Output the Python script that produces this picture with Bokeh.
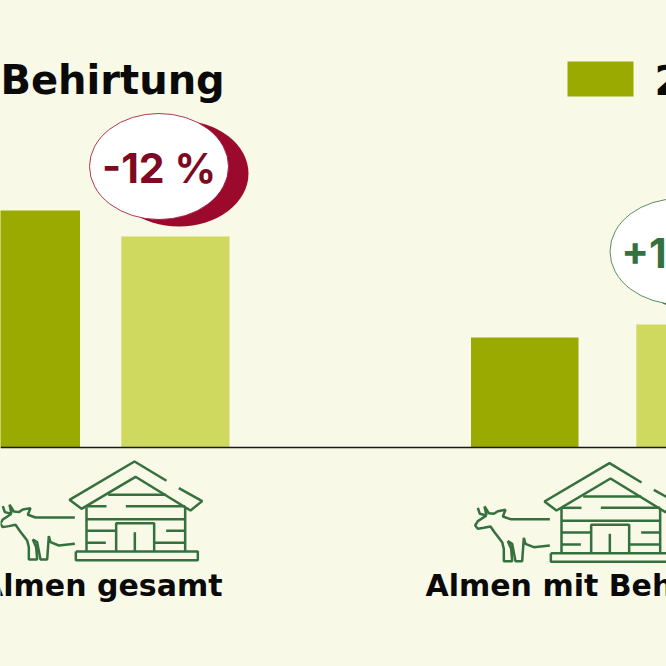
from bokeh.plotting import figure
from bokeh.models import Range1d, Span
from bokeh.core.properties import value
from bokeh.embed import file_html
from bokeh.resources import INLINE

# data
series_2_values = [237, 110]
series_1_values = [211, 123]
categories = ["Almen gesamt", "Almen mit Behirtung"]
changes = ["-12 %", "+12 %"]
title_text = "Behirtung"
legend_label = "2"

BG, DARK, LIGHT = "#f8f9e6", "#9aaa00", "#cfd95f"
GREEN, RED, REDTXT = "#35703f", "#9b0a2c", "#7d0a22"
FONT = "DejaVu Sans"
BASE = 447
def Y(px):
    return BASE - px

p = figure(width=666, height=666, output_backend="svg", toolbar_location=None,
           x_range=Range1d(0, 666), y_range=Range1d(Y(666), Y(0)),
           background_fill_color=BG, border_fill_color=BG, min_border=0,
           outline_line_color=None)
p.axis.visible = False
p.grid.visible = False

# bars
dark_l = [-28, 470.5]; dark_r = [79.5, 578]
light_l = [120.8, 635.8]; light_r = [229, 744]
p.quad(left=dark_l, right=dark_r, bottom=0, top=series_2_values, fill_color=DARK, line_color=None)
p.quad(left=light_l, right=light_r, bottom=0, top=series_1_values, fill_color=LIGHT, line_color=None)
p.add_layout(Span(location=0, dimension="width", line_color="#1a1a1a", line_width=1.5))

# bubbles
p.ellipse(x=[178.5, 699], y=[Y(173), Y(258)], width=139, height=106, fill_color=[RED, GREEN], line_color=None)
p.ellipse(x=[158.5, 679], y=[Y(166), Y(251)], width=139, height=106, fill_color="white",
          line_color=[RED, GREEN], line_width=1, line_alpha=0.8)
p.text(x=[158.5, 682], y=[Y(167), Y(252)], text=changes, text_color=[REDTXT, GREEN], text_align="center",
       text_baseline="middle", text_font=value("Inter"), text_font_style="bold", text_font_size="41px")

# title + legend
p.text(x=[0], y=[Y(79)], text=[title_text], text_color="#0a0a0a", text_baseline="middle",
       text_font=value(FONT), text_font_style="bold", text_font_size="40px")
p.quad(left=[567], right=[633], bottom=[Y(96)], top=[Y(61)], fill_color=DARK, line_color=None)
p.text(x=[654], y=[Y(79)], text=[legend_label], text_color="#0a0a0a", text_baseline="middle",
       text_font=value(FONT), text_font_style="bold", text_font_size="40px")

# category labels
p.text(x=[222, 425], y=[Y(585), Y(585)], text=categories, text_color="#0a0a0a",
       text_align=["right", "left"], text_baseline="middle",
       text_font=value(FONT), text_font_style="bold", text_font_size="30px")

# icon in zoom-crop units (3x), origin at 420,450
icon = [
 [(663,96),(567,38),(372,153),(408,180),(570,84),(735,185),(770,157),(700,118)],
 [(423,175),(423,308)], [(719,175),(719,308)],
 [(391,308),(757,308),(757,334),(391,334),(391,308)],
 [(488,138),(662,138)], [(423,172),(483,172)], [(541,172),(719,172)],
 [(423,211),(719,211)],
 [(512,308),(512,223),(626,223),(626,308)], [(568,250),(568,308)],
 [(423,246),(512,246)], [(662,246),(719,246)],
 [(423,282),(481,282)], [(626,282),(719,282)],
 [(388,206),(270,206),(247,198),(255,178),(232,182),(220,190),(205,188),(192,168),(198,195)],
 [(198,195),(178,190),(172,172)],
 [(198,195),(172,212),(164,225),(172,235),(190,232),(210,228),(222,245),(245,275),(250,295),(250,332),(275,332),(272,295),(262,272),(275,280),(285,332),(305,332),(310,262),(315,280),(340,290),(388,285)],
]
for dx, dy in [(0, 0), (-475, -1.7)]:
    xs = [[420 + a / 3 + dx for a, b in seg] for seg in icon]
    ys = [[Y(450 + b / 3 + dy) for a, b in seg] for seg in icon]
    p.multi_line(xs, ys, line_color=GREEN, line_width=2.5)

html = file_html(p, INLINE).replace("</head>", "<style>html,body{background:%s;margin:0;overflow:hidden}</style></head>" % BG)
open("out.html", "w").write(html)
